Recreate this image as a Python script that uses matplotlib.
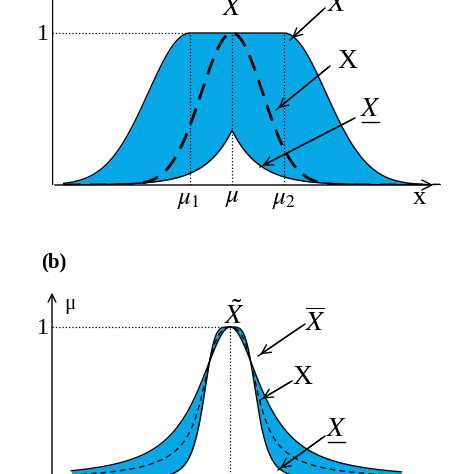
import numpy as np
import matplotlib.pyplot as plt

plt.rcParams['mathtext.fontset'] = 'stix'
plt.rcParams['font.family'] = ['Liberation Serif', 'DejaVu Serif']

W = 474
BLUE = '#08a8e6'
S = 38.8  # px per x unit

# panel (a) parameters
mu1, mu, mu2 = 3.56, 4.64, 5.98
sig_up_a = 1.08
low_peak_a, low_lam_a = 0.36, 0.70
sig_mid_a = 0.79

# panel (b) parameters
mu_b = 4.59
a_out_b, b_out_b = 0.98, 1.0
a_in_b, b_in_b = 0.70, 2.2

fig = plt.figure(figsize=(W / 100, W / 100), dpi=100)

def px_axes(x0, y0, x1, y1):
    return fig.add_axes([x0 / W, 1 - y1 / W, (x1 - x0) / W, (y1 - y0) / W])

# ---------- panel (a)
ax = px_axes(52, 0, 474, 185)
ax.set_xlim(0, (474 - 52) / S)
ax.set_ylim(0, 185 / 152)
ax.axis('off')
x = np.linspace(0.3, 10, 800)
up = np.where(x < mu1, np.exp(-(x - mu1) ** 2 / (2 * sig_up_a ** 2)),
              np.where(x > mu2, np.exp(-(x - mu2) ** 2 / (2 * sig_up_a ** 2)), 1.0))
low = low_peak_a * np.exp(-np.abs(x - mu) / low_lam_a)
mid = np.exp(-(x - mu) ** 2 / (2 * sig_mid_a ** 2))
ax.fill_between(x, low, up, color=BLUE, lw=0)
ax.plot(x, up, 'k', lw=1)
ax.plot(x, low, 'k', lw=1)
ax.plot(x, mid, 'k', lw=2, dashes=(6, 3.5))
ax.plot([0, mu1], [1, 1], 'k:', lw=0.9)
for m in (mu1, mu2, mu):
    ax.plot([m, m], [0, 1], 'k:', lw=0.9)
ax.plot([0, 0], [0, 185 / 152], 'k', lw=1)
ax.annotate('', xy=(9.9, 0), xytext=(0, 0), arrowprops=dict(arrowstyle='->', lw=1, mutation_scale=18))

# ---------- panel (b)
bx = px_axes(52, 290, 474, 474)
bx.set_xlim(0, (474 - 52) / S)
bx.set_ylim((479 - 474) / 152, (479 - 290) / 152)
bx.axis('off')
xb = np.linspace(0.5, 9, 800)
d = np.abs(xb - mu_b)
outer = 1 / (1 + (d / a_out_b) ** (2 * b_out_b))
inner = 1 / (1 + (d / a_in_b) ** (2 * b_in_b))
midb = (outer + inner) / 2
bx.fill_between(xb, inner, outer, color=BLUE, lw=0)
bx.plot(xb, outer, 'k', lw=1)
bx.plot(xb, inner, 'k', lw=1)
bx.plot(xb, midb, 'k', lw=1, dashes=(4, 3))
bx.plot([0, mu_b], [1, 1], 'k:', lw=0.9)
bx.plot([mu_b, mu_b], [0, 1], 'k:', lw=0.9)
bx.annotate('', xy=(0, (479 - 290) / 152), xytext=(0, 0),
            arrowprops=dict(arrowstyle='->', lw=1, mutation_scale=14))

def t(px, py, s, **kw):
    fig.text(px / W, 1 - py / W, s, ha='center', va='center', **kw)

def under(px, py):
    t(px, py, r'$X$', fontsize=20)
    fig.add_artist(plt.Line2D([(px - 8) / W, (px + 9) / W], [1 - (py + 12) / W] * 2,
                              color='k', lw=1))

def arr(tx, ty, hx, hy):
    fig.add_artist(plt.Line2D([tx / W, hx / W], [1 - ty / W, 1 - hy / W], color='k', lw=1))
    plt.annotate('', xy=(hx / W, 1 - hy / W), xytext=(tx / W, 1 - ty / W),
                 xycoords='figure fraction', textcoords='figure fraction',
                 arrowprops=dict(arrowstyle='->', lw=1, mutation_scale=16))

# labels (a)
t(43, 34, '1', fontsize=17)
t(232, 8, r'$\tilde{X}$', fontsize=20)
t(337, 4, r'$\overline{X}$', fontsize=20)
arr(325, 8, 290, 40)
t(347, 62, 'X', fontsize=20)
arr(330, 66, 276, 110)
under(370, 110)
arr(355, 118, 260, 167)
t(188, 200, r'$\mu_1$', fontsize=18)
t(232, 198, r'$\mu$', fontsize=18)
t(284, 200, r'$\mu_2$', fontsize=18)
t(419, 198, 'x', fontsize=19)

# labels (b)
t(54, 262, '(b)', fontsize=15, fontweight='bold')
t(70, 305, 'μ', fontsize=15)
t(43, 329, '1', fontsize=17)
t(234, 316, r'$\tilde{X}$', fontsize=20)
t(315, 323, r'$\overline{X}$', fontsize=20)
arr(305, 324, 258, 356)
t(302, 378, 'X', fontsize=20)
arr(292, 381, 260, 400)
under(336, 430)
arr(325, 436, 278, 470)

fig.savefig('out.png', dpi=100)
